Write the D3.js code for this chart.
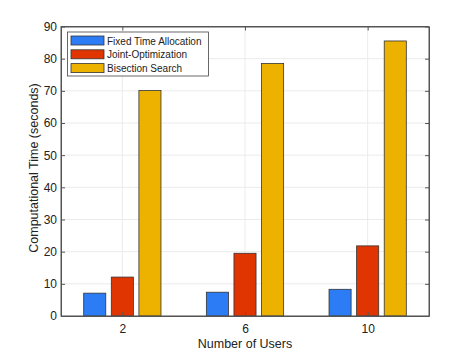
<!DOCTYPE html>
<html><head><meta charset="utf-8">
<script src="https://cdn.jsdelivr.net/npm/d3@7"></script>
<style>body{margin:0;background:#fff;} text{font-family:Arial,"Liberation Sans",Helvetica,sans-serif;}</style>
</head><body>
<svg id="c" width="474" height="355"></svg>
<script>
const categories = [2, 6, 10];
const seriesNames = ["Fixed Time Allocation", "Joint-Optimization", "Bisection Search"];
const fixedTime = [7.1, 7.4, 8.3];
const jointOpt = [12.1, 19.5, 21.8];
const bisection = [70.1, 78.5, 85.5];
const yTicks = [0, 10, 20, 30, 40, 50, 60, 70, 80, 90];
const colors = ["#2b7cf5", "#e03500", "#edb100"];
const series = [fixedTime, jointOpt, bisection];

const svg = d3.select("#c");
const L = 61, R = 429, T = 26.5, B = 316;
const x = d3.scaleLinear().domain([0, 12]).range([L, R]);
const y = d3.scaleLinear().domain([0, 90]).range([B, T]);
const barW = 0.72, offs = [-0.9, 0, 0.9];

// grid
const g = svg.append("g");
yTicks.forEach(t => g.append("line").attr("x1", L).attr("x2", R).attr("y1", y(t)).attr("y2", y(t))
  .attr("stroke", "#ebebeb").attr("stroke-width", 1));
categories.forEach(c => g.append("line").attr("x1", x(c)).attr("x2", x(c)).attr("y1", T).attr("y2", B)
  .attr("stroke", "#ebebeb").attr("stroke-width", 1));

// bars
series.forEach((s, i) => {
  svg.append("g").selectAll("rect").data(s).join("rect")
    .attr("x", (d, j) => x(categories[j] + offs[i] - barW / 2))
    .attr("width", x(barW) - x(0))
    .attr("y", d => y(d))
    .attr("height", d => y(0) - y(d))
    .attr("fill", colors[i]).attr("stroke", "#333").attr("stroke-width", 0.8);
});

// axes
const axCol = "#555";
const yAxis = svg.append("g").attr("transform", `translate(${L},0)`)
  .call(d3.axisLeft(y).tickValues(yTicks).tickSizeInner(-4).tickSizeOuter(0).tickPadding(4));
const yAxisR = svg.append("g").attr("transform", `translate(${R},0)`)
  .call(d3.axisRight(y).tickValues(yTicks).tickSizeInner(-4).tickSizeOuter(0).tickFormat(""));
const xAxis = svg.append("g").attr("transform", `translate(0,${B})`)
  .call(d3.axisBottom(x).tickValues(categories).tickSizeInner(-4).tickSizeOuter(0).tickPadding(8));
const xAxisT = svg.append("g").attr("transform", `translate(0,${T})`)
  .call(d3.axisTop(x).tickValues(categories).tickSizeInner(-4).tickSizeOuter(0).tickFormat(""));
[yAxis, yAxisR, xAxis, xAxisT].forEach(a => {
  a.selectAll("path,line").attr("stroke", axCol);
  a.selectAll("text").attr("fill", "#222").style("font-size", "12px");
});
svg.append("rect").attr("x", L).attr("y", T).attr("width", R - L).attr("height", B - T)
  .attr("fill", "none").attr("stroke", axCol).attr("stroke-width", 1);

// labels
svg.append("text").attr("x", x(6)).attr("y", 348).attr("text-anchor", "middle")
  .style("font-size", "12.5px").attr("fill", "#222").text("Number of Users");
svg.append("text").attr("transform", `translate(38,168) rotate(-90)`).attr("text-anchor", "middle")
  .style("font-size", "12.5px").attr("fill", "#222").text("Computational Time (seconds)");

// legend
const lg = svg.append("g");
lg.append("rect").attr("x", 67.5).attr("y", 32).attr("width", 141).attr("height", 44)
  .attr("fill", "#fff").attr("stroke", "#444").attr("stroke-width", 0.8);
seriesNames.forEach((n, i) => {
  const yy = 36 + i * 13.8;
  lg.append("rect").attr("x", 71).attr("y", yy).attr("width", 33).attr("height", 9)
    .attr("fill", colors[i]).attr("stroke", "#333").attr("stroke-width", 0.8);
  lg.append("text").attr("x", 107).attr("y", yy + 8.5).style("font-size", "10px").attr("fill", "#222").text(n);
});
</script>
</body></html>
